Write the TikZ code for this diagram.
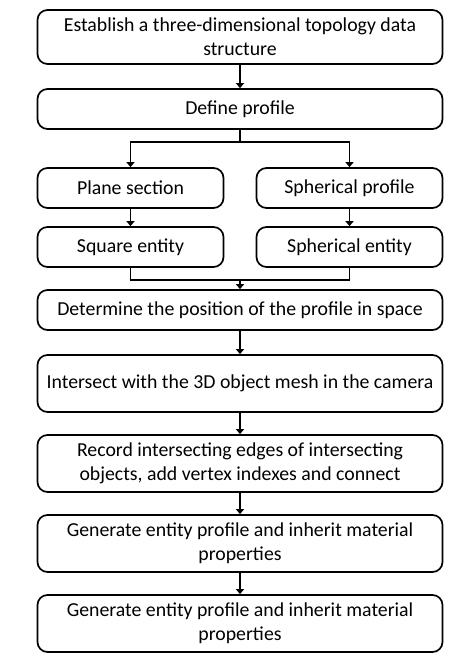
\documentclass[tikz,border=0pt]{standalone}
\usepackage{fontspec}
\setmainfont{Carlito}
\usetikzlibrary{arrows.meta}
\begin{document}
\begin{tikzpicture}[x=1pt,y=1pt,
  box/.style={draw, line width=1.7pt, rounded corners=10pt, align=center, inner sep=0pt,
    font=\fontsize{19.8}{24}\selectfont},
  wide/.style={box, minimum width=405pt},
  half/.style={box, minimum width=186pt, minimum height=40pt},
  arr/.style={line width=1.7pt, -{Triangle[length=5pt,width=8pt]}},
  ln/.style={line width=1.7pt}]
\useasboundingbox (0,0) rectangle (474,-668);
\node[wide, minimum height=54pt] (b1) at (240,-37) {Establish a three-dimensional topology data\\structure};
\node[wide, minimum height=40pt] (b2) at (240,-109) {Define profile};
\node[half] (ps) at (130.5,-188) {Plane section};
\node[half] (sp) at (349.5,-188) {Spherical profile};
\node[half] (sq) at (130.5,-247) {Square entity};
\node[half] (se) at (349.5,-247) {Spherical entity};
\node[wide, minimum height=40pt] (det) at (240,-310) {Determine the position of the profile in space};
\node[wide, minimum height=57pt] (int) at (240,-383.5) {Intersect with the 3D object mesh in the camera};
\node[wide, minimum height=57pt] (rec) at (240,-463.5) {Record intersecting edges of intersecting\\objects, add vertex indexes and connect};
\node[wide, minimum height=57pt] (g1) at (240,-543.5) {Generate entity profile and inherit material\\properties};
\node[wide, minimum height=57pt] (g2) at (240,-623.5) {Generate entity profile and inherit material\\properties};
\coordinate (split) at (240,-142);
\coordinate (merge) at (240,-280);
\draw[arr] (b1) -- (b2);
\draw[ln] (b2) -- (split);
\draw[arr] (split) -| (ps);
\draw[arr] (split) -| (sp);
\draw[arr] (ps) -- (sq);
\draw[arr] (sp) -- (se);
\draw[ln] (sq) |- (merge);
\draw[ln] (se) |- (merge);
\draw[arr] (merge) -- (det);
\draw[arr] (det) -- (int);
\draw[arr] (int) -- (rec);
\draw[arr] (rec) -- (g1);
\draw[arr] (g1) -- (g2);
\end{tikzpicture}
\end{document}
